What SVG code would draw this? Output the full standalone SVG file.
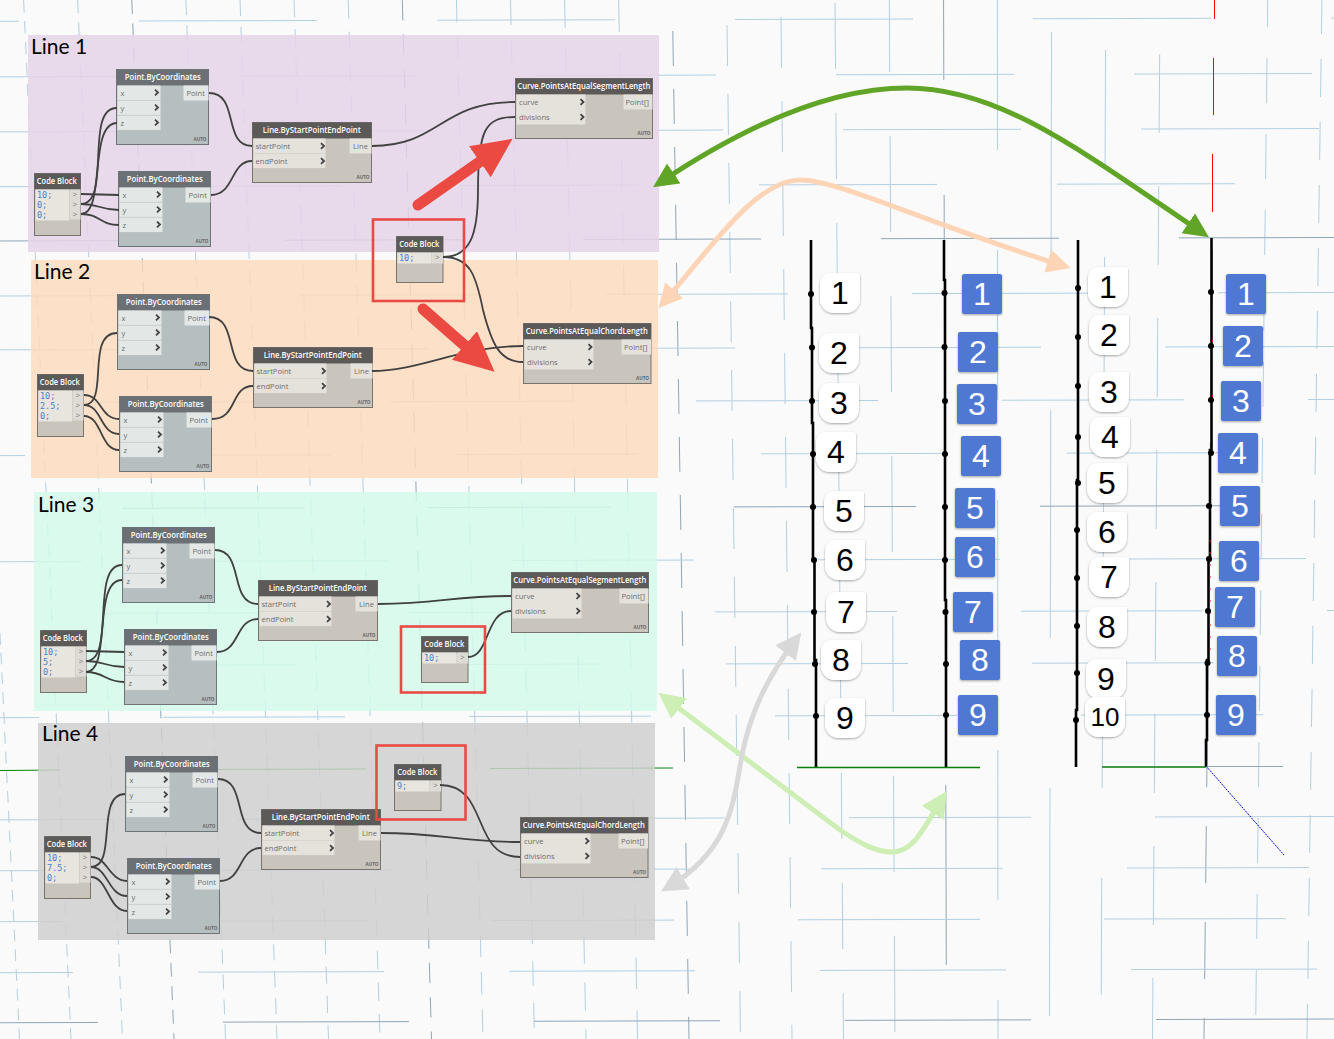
<svg xmlns="http://www.w3.org/2000/svg" xmlns:xlink="http://www.w3.org/1999/xlink" width="1334" height="1039" viewBox="0 0 1334 1039">
<style>
.v{stroke:#b4cfe2;stroke-width:1;fill:none}
.vd{stroke:#8fa5b8;stroke-width:1;fill:none}
.ht{stroke:#b4cfe2;stroke-width:1;fill:none;stroke-dasharray:178 120}
.hm{stroke:#b4cfe2;stroke-width:1;fill:none;stroke-dasharray:182 124}
.hb{stroke:#b4cfe2;stroke-width:1;fill:none;stroke-dasharray:186 125}
.hd{stroke:#8fa5b8}
.red{stroke:#f00;stroke-width:1;fill:none}
.grn{stroke:#0a860a;stroke-width:1;fill:none}
.title{font:400 21px Lato,"Liberation Sans",sans-serif;fill:#000}
.h{font:600 8px "Open Sans","Liberation Sans",sans-serif;fill:#fff;text-anchor:middle;transform:translate(-.7px,-1px)}
.t{font:7.6px "Open Sans","Liberation Sans",sans-serif;fill:#6e6e6e}
.te{text-anchor:end;transform:translateX(-1.6px)}
.au{font:700 4.6px "Open Sans","Liberation Sans",sans-serif;fill:#666;text-anchor:end}
.c{font:8.5px "DejaVu Sans Mono","Liberation Mono",monospace;fill:#4a80cc}
.gt{font:8px "Open Sans","Liberation Sans",sans-serif;fill:#777;text-anchor:middle}
.w{fill:none;stroke:#414141;stroke-width:1.8}
.rr{fill:none;stroke:#ea4a44;stroke-width:2.6}
.wb{fill:#fff;filter:url(#sh)}
.bb{fill:#5078d2;filter:url(#sh)}
.nw{font:32px "Liberation Sans",Arial,sans-serif;fill:#000;text-anchor:middle}
.nb{font:32px "Liberation Sans",Arial,sans-serif;fill:#fff;text-anchor:middle}
.ax{fill:none;stroke:#000;stroke-width:2.6}
.dot{fill:#000}
</style>
<defs>
<filter id="sh" x="-20%" y="-20%" width="140%" height="140%"><feDropShadow dx="0" dy="1" stdDeviation="1.2" flood-color="#000" flood-opacity=".35"/></filter>
<marker id="mG" markerUnits="userSpaceOnUse" markerWidth="30" markerHeight="30" refX="19" refY="12" orient="auto-start-reverse"><path d="M0,0L25,12L0,24z" fill="#60a528"/></marker>
<marker id="mP" markerUnits="userSpaceOnUse" markerWidth="30" markerHeight="30" refX="17" refY="12" orient="auto-start-reverse"><path d="M0,0L24,12L0,24z" fill="#fdd5b6"/></marker>
<marker id="mL" markerUnits="userSpaceOnUse" markerWidth="34" markerHeight="34" refX="19" refY="13" orient="auto-start-reverse"><path d="M0,0L26,13L0,26z" fill="#cdeeb4"/></marker>
<marker id="mA" markerUnits="userSpaceOnUse" markerWidth="34" markerHeight="34" refX="19" refY="13" orient="auto-start-reverse"><path d="M0,0L26,13L0,26z" fill="#d9d9d9"/></marker>
<marker id="mR" markerUnits="userSpaceOnUse" markerWidth="44" markerHeight="44" refX="10" refY="19" orient="auto"><path d="M0,0L40,19L0,38z" fill="#eb4a42"/></marker>
<path id="chev" d="M-1.5,-2.8L1.5,0L-1.5,2.8" fill="none" stroke="#444" stroke-width="1.8"/>
<g id="pointBody">
<rect width="92" height="75" fill="#b6bfc0" stroke="#6f7577"/>
<rect width="92" height="16" fill="#6a7074"/>
<rect x="1" y="16" width="43" height="14.4" fill="#e3e8e6"/><rect x="1" y="31" width="43" height="14.4" fill="#e3e8e6"/><rect x="1" y="46" width="43" height="14.6" fill="#e3e8e6"/>
<rect x="67" y="16" width="25" height="15" fill="#e3e8e6"/>
<use href="#chev" x="40" y="23"/><use href="#chev" x="40" y="38"/><use href="#chev" x="40" y="53"/>
</g>
<g id="lineBody">
<rect width="119" height="60" fill="#c9c5bd" stroke="#77746e"/>
<rect width="119" height="16" fill="#5c5a58"/>
<rect x="1" y="16" width="72" height="14.6" fill="#e5e2dc"/><rect x="1" y="31" width="72" height="14.6" fill="#e5e2dc"/>
<rect x="97" y="16" width="22" height="15" fill="#e5e2dc"/>
<use href="#chev" x="70" y="23.5"/><use href="#chev" x="70" y="38.5"/>
</g>
<g id="segBody">
<rect width="137" height="60" fill="#c9c5bd" stroke="#77746e"/>
<rect width="137" height="16" fill="#5c5a58"/>
<rect x="1" y="16" width="69" height="30" fill="#e5e2dc"/>
<rect x="108" y="16" width="29" height="15" fill="#e5e2dc"/>
<use href="#chev" x="66.5" y="23.5"/><use href="#chev" x="66.5" y="38.5"/>
</g>
<g id="chordBody">
<rect width="127.500" height="60" fill="#c9c5bd" stroke="#77746e"/>
<rect width="127.500" height="16" fill="#5c5a58"/>
<rect x="1" y="16" width="69" height="30" fill="#e5e2dc"/>
<rect x="98" y="16" width="29.500" height="15" fill="#e5e2dc"/>
<use href="#chev" x="66.5" y="23.500"/><use href="#chev" x="66.5" y="38.500"/>
</g>
<g id="cb3Body">
<rect width="46" height="62" fill="#c9c5bd" stroke="#77746e"/>
<rect width="46" height="16" fill="#5c5a58"/>
<rect x="1" y="16" width="33.500" height="31" fill="#e8e5df"/>
<rect x="35" y="16" width="11" height="30" fill="#dedbd5"/>
</g>
<g id="cb1Body">
<rect width="46.500" height="46" fill="#c9c5bd" stroke="#77746e"/>
<rect width="46.500" height="16" fill="#5c5a58"/>
<rect x="1" y="16" width="34" height="11" fill="#e8e5df"/>
<rect x="35.500" y="16" width="11" height="11" fill="#dedbd5"/>
</g>
<path id="wb" d="M-20,-10A10,10 0 0 1 -10,-20L17,-20A3,3 0 0 1 20,-17L20,6A14,14 0 0 1 6,20L-6,20A14,14 0 0 1 -20,6Z"/>
</defs>

<rect width="1334" height="1039" fill="#fafafa"/>

<g id="grid">
<path class="v" d="M-30.500,0L19.500,1039" stroke-dasharray="11.800 8"/>
<path class="v" d="M23.600,0L71,1039" stroke-dasharray="12.500 8.500"/>
<path class="v" d="M77.700,0L122.500,1039" stroke-dasharray="13.200 9"/>
<path class="vd" d="M131.800,0L174,1039" stroke-dasharray="14 9.500"/>
<path class="v" d="M185.900,0L225.500,1039" stroke-dasharray="15 10"/>
<path class="v" d="M240,0L277,1039" stroke-dasharray="16 11"/>
<path class="v" d="M294,0L328.500,1039" stroke-dasharray="17.300 12"/>
<path class="v" d="M348.200,0L380,1039" stroke-dasharray="18.700 13"/>
<path class="vd" d="M402.300,0L431.500,1039" stroke-dasharray="20.400 14"/>
<path class="v" d="M456.400,0L483,1039" stroke-dasharray="22.400 15"/>
<path class="v" d="M510.500,0L534.500,1039" stroke-dasharray="24.800 17"/>
<path class="v" d="M564.600,0L586,1039" stroke-dasharray="27.800 19"/>
<path class="v" d="M618.700,0L637.500,1039" stroke-dasharray="31.700 21.500"/>
<path class="vd" d="M672.800,31L689,1039" stroke-dasharray="35 23"/>
<path class="v" d="M727,25L740.500,1039" stroke-dasharray="41 28"/>
<path class="v" d="M781,17L792,1039" stroke-dasharray="51 33"/>
<path class="v" d="M835,3L843.500,1039" stroke-dasharray="66 44"/>
<path class="v" d="M889.200,-24L895,1039" stroke-dasharray="96 64"/>
<path class="vd" d="M943.300,-100L946.500,1039" stroke-dasharray="180 115"/>
<path class="v" d="M997.400,0L998,1039" stroke-dasharray="150 100"/>
<path class="v" d="M1051.500,32L1049.500,1039" stroke-dasharray="228 150"/>
<path class="v" d="M1105.600,50L1101,1039" stroke-dasharray="117 90"/>
<path class="v" d="M1159.700,54L1152.500,1039" stroke-dasharray="79 53"/>
<path class="vd" d="M1212.500,250L1204,1039" stroke-dasharray="57 39"/>
<path class="v" d="M1267.900,-18L1255.500,1039" stroke-dasharray="45 31"/>
<path class="v" d="M1322,-4L1307,1039" stroke-dasharray="38 25"/>
<path class="ht" d="M-159,21.700L1334,18"/>
<path class="ht" d="M-58,77L1334,73.500"/>
<path class="ht" d="M-51,132L1334,128.500"/>
<path class="ht" d="M-135,187L1334,183.500"/>
<path class="ht hd" d="M-13,241L1334,237.500"/>
<path class="hm" d="M-6,296L1334,292.500"/>
<path class="hm" d="M-59,350L1334,346.500"/>
<path class="hm" d="M-222,403L1334,399.500"/>
<path class="hm" d="M-157,456L1334,452.500"/>
<path class="hm hd" d="M-184,509L1334,505.500"/>
<path class="hm" d="M-100,562L1334,558.500"/>
<path class="hm" d="M-203,614L1334,610.500"/>
<path class="hm" d="M-192,666L1334,662.500"/>
<path class="hm" d="M-143,718L1334,714.500"/>
<path class="hm" d="M-69,820L1334,816.500"/>
<path class="hm" d="M-97,871L1334,867.500"/>
<path class="hm" d="M-120,922L1334,918.500"/>
<path class="hb" d="M-113,973L1334,969"/>
<path class="hb hd" d="M-88,1023L1334,1019"/>
<path class="grn" d="M0,770.500L60,770M190,769.500L366,769M490,768.500L673,768"/>
<path class="red" d="M1214.500,0V19M1213.500,58V115M1212.500,154V212"/>
</g>

<g id="regions">
<rect x="28" y="35" width="631" height="217" fill="#e5d3e7" fill-opacity=".85"/>
<rect x="31" y="260" width="627" height="218" fill="#fcdbbd" fill-opacity=".85"/>
<rect x="34" y="492" width="623" height="219" fill="#d2f9ea" fill-opacity=".85"/>
<rect x="38" y="723" width="617" height="217" fill="#cfcfcf" fill-opacity=".85"/>
<text class="title" x="31" y="54">Line 1</text>
<text class="title" x="34" y="279">Line 2</text>
<text class="title" x="38" y="512">Line 3</text>
<text class="title" x="42" y="741">Line 4</text>
</g>

<g id="node-l1-cb" transform="translate(34.500,173.500)"><use href="#cb3Body"/><text class="h" x="23" y="11" textLength="40" lengthAdjust="spacingAndGlyphs">Code Block</text><text class="c" x="2.500" y="24">10;</text><text class="c" x="2.500" y="34">0;</text><text class="c" x="2.500" y="44">0;</text><text class="gt" x="40.500" y="23">&gt;</text><text class="gt" x="40.500" y="33">&gt;</text><text class="gt" x="40.500" y="43">&gt;</text></g>
<g id="node-l1-p1" transform="translate(116.500,69.500)"><use href="#pointBody"/><text class="h" x="47" y="11" textLength="76" lengthAdjust="spacingAndGlyphs">Point.ByCoordinates</text><text class="t" x="4" y="26">x</text><text class="t" x="4" y="41">y</text><text class="t" x="4" y="56">z</text><text class="t te" x="90" y="26">Point</text><text class="au" x="90" y="71">AUTO</text></g>
<g id="node-l1-p2" transform="translate(118.500,171.500)"><use href="#pointBody"/><text class="h" x="47" y="11" textLength="76" lengthAdjust="spacingAndGlyphs">Point.ByCoordinates</text><text class="t" x="4" y="26">x</text><text class="t" x="4" y="41">y</text><text class="t" x="4" y="56">z</text><text class="t te" x="90" y="26">Point</text><text class="au" x="90" y="71">AUTO</text></g>
<g id="node-l1-line" transform="translate(252.500,122.500)"><use href="#lineBody"/><text class="h" x="60" y="11" textLength="98" lengthAdjust="spacingAndGlyphs">Line.ByStartPointEndPoint</text><text class="t" x="3" y="26">startPoint</text><text class="t" x="3" y="41">endPoint</text><text class="t te" x="117" y="26">Line</text><text class="au" x="117" y="56">AUTO</text></g>
<g id="node-l1-curve" transform="translate(515.500,78.500)"><use href="#segBody"/><text class="h" x="69" y="11" textLength="133" lengthAdjust="spacingAndGlyphs">Curve.PointsAtEqualSegmentLength</text><text class="t" x="3.500" y="26">curve</text><text class="t" x="3.500" y="41">divisions</text><text class="t te" x="135" y="26">Point[]</text><text class="au" x="135" y="56">AUTO</text></g>
<g id="node-mid-cb" transform="translate(396.500,236.500)"><use href="#cb1Body"/><text class="h" x="23.500" y="11" textLength="40" lengthAdjust="spacingAndGlyphs">Code Block</text><text class="c" x="2.500" y="24">10;</text><text class="gt" x="41" y="23">&gt;</text></g>

<g id="node-l2-cb" transform="translate(37.500,374.500)"><use href="#cb3Body"/><text class="h" x="23" y="11" textLength="40" lengthAdjust="spacingAndGlyphs">Code Block</text><text class="c" x="2.500" y="24">10;</text><text class="c" x="2.500" y="34">2.5;</text><text class="c" x="2.500" y="44">0;</text><text class="gt" x="40.500" y="23">&gt;</text><text class="gt" x="40.500" y="33">&gt;</text><text class="gt" x="40.500" y="43">&gt;</text></g>
<g id="node-l2-p1" transform="translate(117.500,294.500)"><use href="#pointBody"/><text class="h" x="47" y="11" textLength="76" lengthAdjust="spacingAndGlyphs">Point.ByCoordinates</text><text class="t" x="4" y="26">x</text><text class="t" x="4" y="41">y</text><text class="t" x="4" y="56">z</text><text class="t te" x="90" y="26">Point</text><text class="au" x="90" y="71">AUTO</text></g>
<g id="node-l2-p2" transform="translate(119.500,396.500)"><use href="#pointBody"/><text class="h" x="47" y="11" textLength="76" lengthAdjust="spacingAndGlyphs">Point.ByCoordinates</text><text class="t" x="4" y="26">x</text><text class="t" x="4" y="41">y</text><text class="t" x="4" y="56">z</text><text class="t te" x="90" y="26">Point</text><text class="au" x="90" y="71">AUTO</text></g>
<g id="node-l2-line" transform="translate(253.500,347.500)"><use href="#lineBody"/><text class="h" x="60" y="11" textLength="98" lengthAdjust="spacingAndGlyphs">Line.ByStartPointEndPoint</text><text class="t" x="3" y="26">startPoint</text><text class="t" x="3" y="41">endPoint</text><text class="t te" x="117" y="26">Line</text><text class="au" x="117" y="56">AUTO</text></g>
<g id="node-l2-curve" transform="translate(523.500,323.500)"><use href="#chordBody"/><text class="h" x="64" y="11" textLength="122" lengthAdjust="spacingAndGlyphs">Curve.PointsAtEqualChordLength</text><text class="t" x="3.500" y="26">curve</text><text class="t" x="3.500" y="41">divisions</text><text class="t te" x="125.500" y="26">Point[]</text><text class="au" x="125.500" y="56">AUTO</text></g>

<g id="node-l3-cb" transform="translate(40.500,630.500)"><use href="#cb3Body"/><text class="h" x="23" y="11" textLength="40" lengthAdjust="spacingAndGlyphs">Code Block</text><text class="c" x="2.500" y="24">10;</text><text class="c" x="2.500" y="34">5;</text><text class="c" x="2.500" y="44">0;</text><text class="gt" x="40.500" y="23">&gt;</text><text class="gt" x="40.500" y="33">&gt;</text><text class="gt" x="40.500" y="43">&gt;</text></g>
<g id="node-l3-p1" transform="translate(122.500,527.500)"><use href="#pointBody"/><text class="h" x="47" y="11" textLength="76" lengthAdjust="spacingAndGlyphs">Point.ByCoordinates</text><text class="t" x="4" y="26">x</text><text class="t" x="4" y="41">y</text><text class="t" x="4" y="56">z</text><text class="t te" x="90" y="26">Point</text><text class="au" x="90" y="71">AUTO</text></g>
<g id="node-l3-p2" transform="translate(124.500,629.500)"><use href="#pointBody"/><text class="h" x="47" y="11" textLength="76" lengthAdjust="spacingAndGlyphs">Point.ByCoordinates</text><text class="t" x="4" y="26">x</text><text class="t" x="4" y="41">y</text><text class="t" x="4" y="56">z</text><text class="t te" x="90" y="26">Point</text><text class="au" x="90" y="71">AUTO</text></g>
<g id="node-l3-line" transform="translate(258.500,580.500)"><use href="#lineBody"/><text class="h" x="60" y="11" textLength="98" lengthAdjust="spacingAndGlyphs">Line.ByStartPointEndPoint</text><text class="t" x="3" y="26">startPoint</text><text class="t" x="3" y="41">endPoint</text><text class="t te" x="117" y="26">Line</text><text class="au" x="117" y="56">AUTO</text></g>
<g id="node-l3-curve" transform="translate(511.500,572.500)"><use href="#segBody"/><text class="h" x="69" y="11" textLength="133" lengthAdjust="spacingAndGlyphs">Curve.PointsAtEqualSegmentLength</text><text class="t" x="3.500" y="26">curve</text><text class="t" x="3.500" y="41">divisions</text><text class="t te" x="135" y="26">Point[]</text><text class="au" x="135" y="56">AUTO</text></g>
<g id="node-l3-cb2" transform="translate(421.500,636.500)"><use href="#cb1Body"/><text class="h" x="23.500" y="11" textLength="40" lengthAdjust="spacingAndGlyphs">Code Block</text><text class="c" x="2.500" y="24">10;</text><text class="gt" x="41" y="23">&gt;</text></g>

<g id="node-l4-cb" transform="translate(44.500,836.500)"><use href="#cb3Body"/><text class="h" x="23" y="11" textLength="40" lengthAdjust="spacingAndGlyphs">Code Block</text><text class="c" x="2.500" y="24">10;</text><text class="c" x="2.500" y="34">7.5;</text><text class="c" x="2.500" y="44">0;</text><text class="gt" x="40.500" y="23">&gt;</text><text class="gt" x="40.500" y="33">&gt;</text><text class="gt" x="40.500" y="43">&gt;</text></g>
<g id="node-l4-p1" transform="translate(125.500,756.500)"><use href="#pointBody"/><text class="h" x="47" y="11" textLength="76" lengthAdjust="spacingAndGlyphs">Point.ByCoordinates</text><text class="t" x="4" y="26">x</text><text class="t" x="4" y="41">y</text><text class="t" x="4" y="56">z</text><text class="t te" x="90" y="26">Point</text><text class="au" x="90" y="71">AUTO</text></g>
<g id="node-l4-p2" transform="translate(127.500,858.500)"><use href="#pointBody"/><text class="h" x="47" y="11" textLength="76" lengthAdjust="spacingAndGlyphs">Point.ByCoordinates</text><text class="t" x="4" y="26">x</text><text class="t" x="4" y="41">y</text><text class="t" x="4" y="56">z</text><text class="t te" x="90" y="26">Point</text><text class="au" x="90" y="71">AUTO</text></g>
<g id="node-l4-line" transform="translate(261.500,809.500)"><use href="#lineBody"/><text class="h" x="60" y="11" textLength="98" lengthAdjust="spacingAndGlyphs">Line.ByStartPointEndPoint</text><text class="t" x="3" y="26">startPoint</text><text class="t" x="3" y="41">endPoint</text><text class="t te" x="117" y="26">Line</text><text class="au" x="117" y="56">AUTO</text></g>
<g id="node-l4-curve" transform="translate(520.500,817.500)"><use href="#chordBody"/><text class="h" x="64" y="11" textLength="122" lengthAdjust="spacingAndGlyphs">Curve.PointsAtEqualChordLength</text><text class="t" x="3.500" y="26">curve</text><text class="t" x="3.500" y="41">divisions</text><text class="t te" x="125.500" y="26">Point[]</text><text class="au" x="125.500" y="56">AUTO</text></g>
<g id="node-l4-cb2" transform="translate(394.500,764.500)"><use href="#cb1Body"/><text class="h" x="23.500" y="11" textLength="40" lengthAdjust="spacingAndGlyphs">Code Block</text><text class="c" x="2.500" y="24">9;</text><text class="gt" x="41" y="23">&gt;</text></g>

<g id="connectors">
<path class="w" d="M81,194L119,195"/>
<path class="w" d="M81,204C112,204 84,107 117,108"/>
<path class="w" d="M81,214C106,214 88,123 117,123"/>
<path class="w" d="M81,204C100,204 100,210 119,210"/>
<path class="w" d="M81,214C100,214 100,225 119,225"/>
<path class="w" d="M209,93C240,93 222,146 252,146"/>
<path class="w" d="M211,195C235,195 230,161 252,161"/>
<path class="w" d="M372,146C440,146 440,102 515,102"/>
<path class="w" d="M443,257C470,257 478,235 478,190C478,130 485,117 515,117"/>
<path class="w" d="M443,257C470,257 476,275 483,310C492,345 500,362 523,362"/>
<path class="w" d="M209,317C240,317 222,371 253,371"/>
<path class="w" d="M212,419C238,419 230,386 253,386"/>
<path class="w" d="M372,371C420,371 460,346 523,346"/>
<path class="w" d="M84,395C102,395 100,419 119,419"/>
<path class="w" d="M84,405C110,405 85,333 117,333"/>
<path class="w" d="M84,405C102,405 100,434 119,434"/>
<path class="w" d="M84,416C102,416 100,450 119,450"/>
<path class="w" d="M86,651L124,652"/>
<path class="w" d="M86,661C116,661 90,565 122,565"/>
<path class="w" d="M86,672C112,672 92,580 122,580"/>
<path class="w" d="M86,661C105,661 105,667 124,667"/>
<path class="w" d="M86,672C105,672 105,682 124,682"/>
<path class="w" d="M215,550C245,550 228,604 258,604"/>
<path class="w" d="M217,652C240,652 235,619 258,619"/>
<path class="w" d="M378,604C440,604 450,596 511,596"/>
<path class="w" d="M468,657C490,657 485,611 511,611"/>
<path class="w" d="M91,857C108,857 108,880 127,881"/>
<path class="w" d="M91,867C108,867 108,896 127,896"/>
<path class="w" d="M91,877C108,877 108,911 127,911"/>
<path class="w" d="M91,867C118,867 95,794 125,794"/>
<path class="w" d="M218,779C248,779 231,833 261,833"/>
<path class="w" d="M220,881C243,881 238,848 261,848"/>
<path class="w" d="M381,833C440,833 460,842 520,842"/>
<path class="w" d="M440,785C490,785 470,857 520,857"/>
</g>

<g id="highlights">
<rect class="rr" x="373" y="219.500" width="91" height="81.500"/>
<rect class="rr" x="401" y="626.500" width="84" height="66"/>
<rect class="rr" x="376.500" y="745.500" width="89" height="74"/>
<path d="M418,205L488,156" fill="none" stroke="#eb4a42" stroke-width="11" stroke-linecap="round" marker-end="url(#mR)"/>
<path d="M423,309L472,352" fill="none" stroke="#eb4a42" stroke-width="11" stroke-linecap="round" marker-end="url(#mR)"/>
</g>

<g id="axes">
<path class="ax" d="M811,240V328H812V423H813V560H814.500V660H816V767"/>
<path class="ax" d="M944,240V280H945V600H946V767"/>
<path class="ax" d="M1078,240V480H1077V710H1076V767"/>
<path class="ax" d="M1211.500,238V450H1210V560H1208.500V660H1207V740H1206V767"/>
<path d="M797,767.500H980M1102,767H1206" fill="none" stroke="#0a7c0a" stroke-width="1.300"/>
<path d="M1206,766.500H1283" fill="none" stroke="#8fa5b8" stroke-width="1"/>
<path d="M1206,766L1284,855" fill="none" stroke="#0000e0" stroke-width="1" stroke-dasharray="2 1"/>
<path d="M1211,340V352M1211,395V405M1208.500,540V660" fill="none" stroke="#f00" stroke-width="1" stroke-dasharray="2 10" transform="translate(1.500,0)"/>
<g class="dot">
<circle cx="811" cy="294" r="3"/><circle cx="812" cy="347.500" r="3"/><circle cx="812" cy="401" r="3"/><circle cx="813" cy="454" r="3"/><circle cx="813" cy="507" r="3"/><circle cx="814" cy="560" r="3"/><circle cx="814" cy="612" r="3"/><circle cx="815" cy="664" r="3"/><circle cx="816" cy="716" r="3"/>
<circle cx="944.500" cy="293" r="3"/><circle cx="944.500" cy="347" r="3"/><circle cx="945" cy="401" r="3"/><circle cx="945" cy="454" r="3"/><circle cx="945" cy="507" r="3"/><circle cx="945" cy="560" r="3"/><circle cx="945.500" cy="612" r="3"/><circle cx="946" cy="664" r="3"/><circle cx="946" cy="715" r="3"/>
<circle cx="1078" cy="288" r="3"/><circle cx="1078" cy="337" r="3"/><circle cx="1078" cy="386" r="3"/><circle cx="1078" cy="437" r="3"/><circle cx="1078" cy="483" r="3"/><circle cx="1077" cy="530" r="3"/><circle cx="1077" cy="578" r="3"/><circle cx="1077" cy="626" r="3"/><circle cx="1077" cy="673" r="3"/><circle cx="1076" cy="720" r="3"/>
<circle cx="1211" cy="292" r="3"/><circle cx="1211" cy="346" r="3"/><circle cx="1211" cy="400" r="3"/><circle cx="1211" cy="453" r="3"/><circle cx="1209" cy="506" r="3"/><circle cx="1209" cy="559" r="3"/><circle cx="1208" cy="611" r="3"/><circle cx="1207.500" cy="663" r="3"/><circle cx="1207" cy="715" r="3"/>
</g>
</g>

<g id="labels-a">
<g id="a1" transform="translate(840,293)"><use href="#wb" class="wb"/><text class="nw" y="11">1</text></g>
<g id="a2" transform="translate(839,353)"><use href="#wb" class="wb"/><text class="nw" y="11">2</text></g>
<g id="a3" transform="translate(839,403)"><use href="#wb" class="wb"/><text class="nw" y="11">3</text></g>
<g id="a4" transform="translate(836,452)"><use href="#wb" class="wb"/><text class="nw" y="11">4</text></g>
<g id="a5" transform="translate(844,511)"><use href="#wb" class="wb"/><text class="nw" y="11">5</text></g>
<g id="a6" transform="translate(845,560)"><use href="#wb" class="wb"/><text class="nw" y="11">6</text></g>
<g id="a7" transform="translate(846,612)"><use href="#wb" class="wb"/><text class="nw" y="11">7</text></g>
<g id="a8" transform="translate(841,660)"><use href="#wb" class="wb"/><text class="nw" y="11">8</text></g>
<g id="a9" transform="translate(845,718)"><use href="#wb" class="wb"/><text class="nw" y="11">9</text></g>
</g>
<g id="labels-b">
<g id="b1" transform="translate(982,294)"><rect x="-20" y="-20" width="40" height="40" rx="2" class="bb"/><text class="nb" y="11">1</text></g>
<g id="b2" transform="translate(978,352)"><rect x="-20" y="-20" width="40" height="40" rx="2" class="bb"/><text class="nb" y="11">2</text></g>
<g id="b3" transform="translate(977,404)"><rect x="-20" y="-20" width="40" height="40" rx="2" class="bb"/><text class="nb" y="11">3</text></g>
<g id="b4" transform="translate(981,456)"><rect x="-20" y="-20" width="40" height="40" rx="2" class="bb"/><text class="nb" y="11">4</text></g>
<g id="b5" transform="translate(975,508)"><rect x="-20" y="-20" width="40" height="40" rx="2" class="bb"/><text class="nb" y="11">5</text></g>
<g id="b6" transform="translate(975,557)"><rect x="-20" y="-20" width="40" height="40" rx="2" class="bb"/><text class="nb" y="11">6</text></g>
<g id="b7" transform="translate(973,612)"><rect x="-20" y="-20" width="40" height="40" rx="2" class="bb"/><text class="nb" y="11">7</text></g>
<g id="b8" transform="translate(980,660)"><rect x="-20" y="-20" width="40" height="40" rx="2" class="bb"/><text class="nb" y="11">8</text></g>
<g id="b9" transform="translate(978,715)"><rect x="-20" y="-20" width="40" height="40" rx="2" class="bb"/><text class="nb" y="11">9</text></g>
</g>
<g id="labels-c">
<g id="c1" transform="translate(1108,287)"><use href="#wb" class="wb"/><text class="nw" y="11">1</text></g>
<g id="c2" transform="translate(1109,335)"><use href="#wb" class="wb"/><text class="nw" y="11">2</text></g>
<g id="c3" transform="translate(1109,392)"><use href="#wb" class="wb"/><text class="nw" y="11">3</text></g>
<g id="c4" transform="translate(1110,437)"><use href="#wb" class="wb"/><text class="nw" y="11">4</text></g>
<g id="c5" transform="translate(1107,483)"><use href="#wb" class="wb"/><text class="nw" y="11">5</text></g>
<g id="c6" transform="translate(1107,532)"><use href="#wb" class="wb"/><text class="nw" y="11">6</text></g>
<g id="c7" transform="translate(1109,577)"><use href="#wb" class="wb"/><text class="nw" y="11">7</text></g>
<g id="c8" transform="translate(1107,627)"><use href="#wb" class="wb"/><text class="nw" y="11">8</text></g>
<g id="c9" transform="translate(1106,679)"><use href="#wb" class="wb"/><text class="nw" y="11">9</text></g>
<g id="c10" transform="translate(1105,717)"><use href="#wb" class="wb"/><text class="nw" y="9" style="font-size:26px">10</text></g>
</g>
<g id="labels-d">
<g id="d1" transform="translate(1246,294)"><rect x="-20" y="-20" width="40" height="40" rx="2" class="bb"/><text class="nb" y="11">1</text></g>
<g id="d2" transform="translate(1243,346)"><rect x="-20" y="-20" width="40" height="40" rx="2" class="bb"/><text class="nb" y="11">2</text></g>
<g id="d3" transform="translate(1241,401)"><rect x="-20" y="-20" width="40" height="40" rx="2" class="bb"/><text class="nb" y="11">3</text></g>
<g id="d4" transform="translate(1238,453)"><rect x="-20" y="-20" width="40" height="40" rx="2" class="bb"/><text class="nb" y="11">4</text></g>
<g id="d5" transform="translate(1240,506)"><rect x="-20" y="-20" width="40" height="40" rx="2" class="bb"/><text class="nb" y="11">5</text></g>
<g id="d6" transform="translate(1239,561)"><rect x="-20" y="-20" width="40" height="40" rx="2" class="bb"/><text class="nb" y="11">6</text></g>
<g id="d7" transform="translate(1235,607)"><rect x="-20" y="-20" width="40" height="40" rx="2" class="bb"/><text class="nb" y="11">7</text></g>
<g id="d8" transform="translate(1237,656)"><rect x="-20" y="-20" width="40" height="40" rx="2" class="bb"/><text class="nb" y="11">8</text></g>
<g id="d9" transform="translate(1236,715)"><rect x="-20" y="-20" width="40" height="40" rx="2" class="bb"/><text class="nb" y="11">9</text></g>
</g>

<g id="arrows">
<path d="M658,184C750,122 835,88 907,88C1000,88 1080,150 1204,234" fill="none" stroke="#60a528" stroke-width="5" marker-start="url(#mG)" marker-end="url(#mG)"/>
<path d="M663,303C710,250 755,180 800,180C840,180 930,225 1064,266" fill="none" stroke="#fdd5b6" stroke-width="5" marker-start="url(#mP)" marker-end="url(#mP)"/>
<path d="M664,697C740,755 800,800 840,830C860,843 875,852 892,852C915,852 925,825 943,797" fill="none" stroke="#cdeeb4" stroke-width="5" marker-start="url(#mL)" marker-end="url(#mL)"/>
<path d="M797,638C765,680 750,715 742,755C733,805 730,850 667,888" fill="none" stroke="#d9d9d9" stroke-width="5" marker-start="url(#mA)" marker-end="url(#mA)"/>
</g>
</svg>
